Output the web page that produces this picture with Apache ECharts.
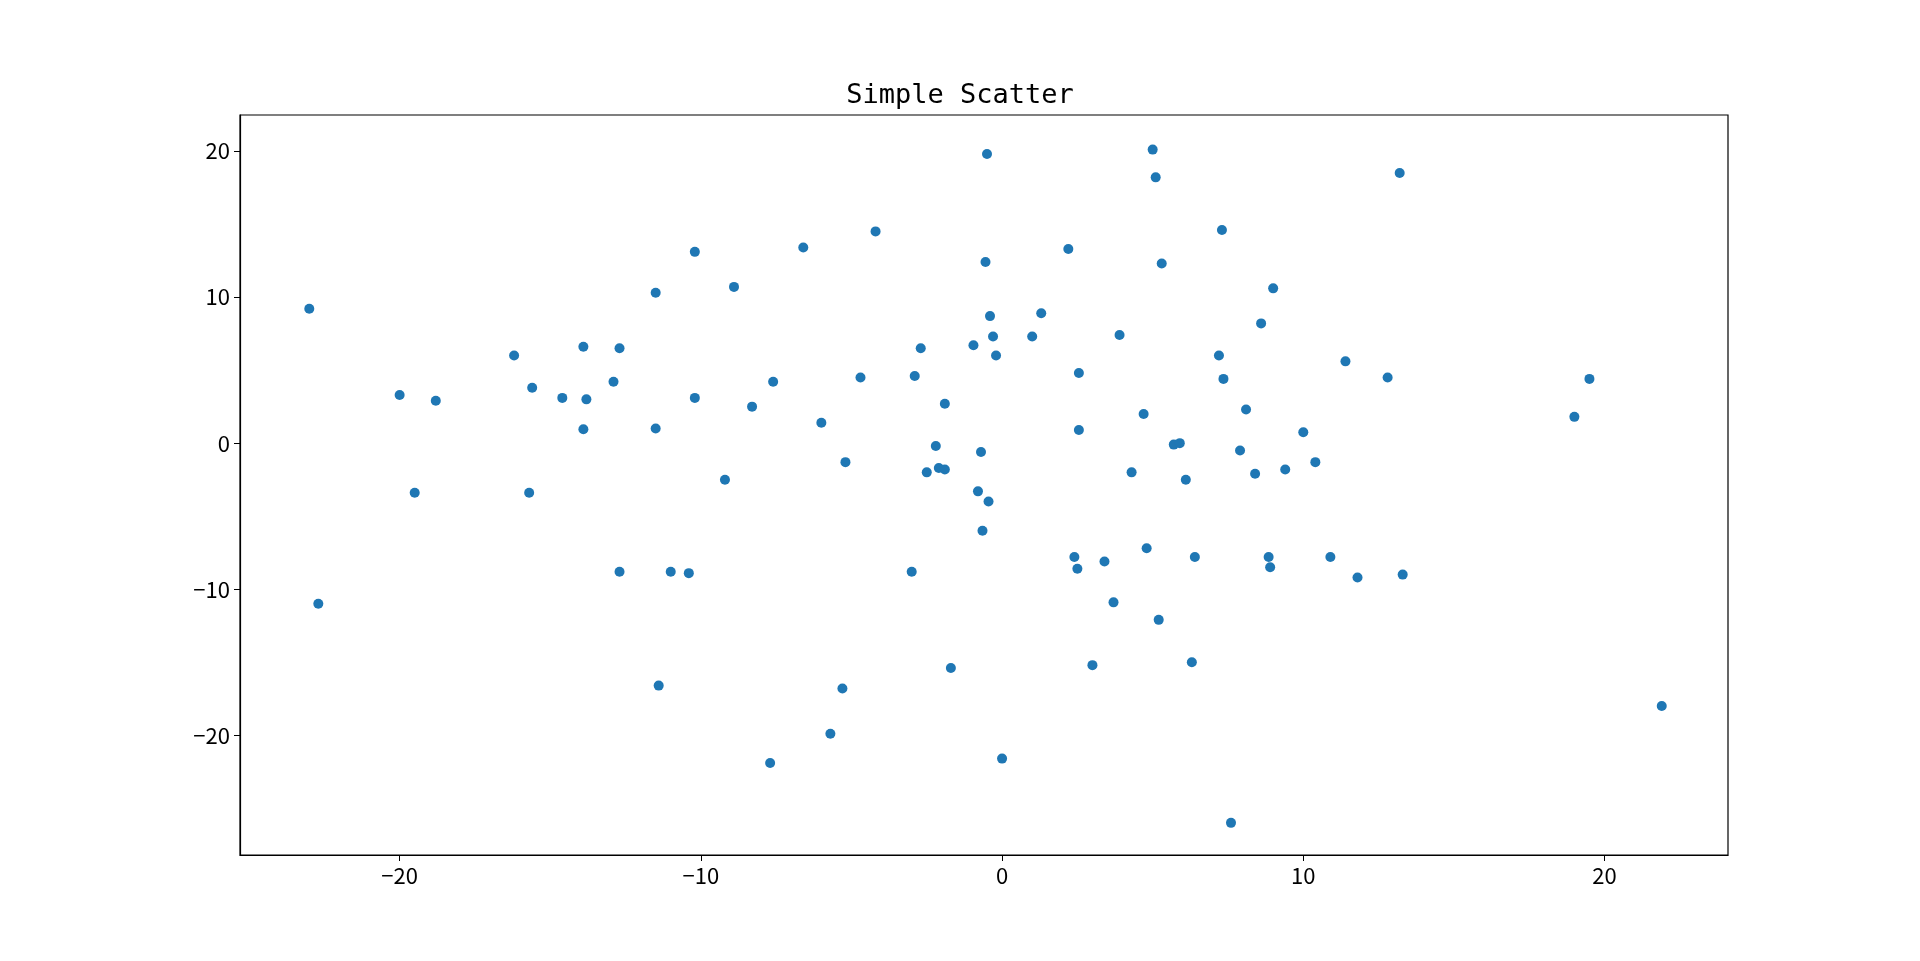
<!DOCTYPE html>
<html><head><meta charset="utf-8">
<script src="https://cdn.jsdelivr.net/npm/echarts@6/dist/echarts.min.js"></script>
<style>html,body{margin:0;padding:0;background:#fff}#c{width:1920px;height:961px}</style>
</head><body><div id="c"></div>
<script>
const xValues = [-23.0,-22.7,-20.0,-19.5,-18.8,-16.2,-15.6,-15.7,-14.6,-13.9,-13.9,-13.8,-12.9,-12.7,-12.7,-11.5,-11.5,-11.4,-11.0,-10.4,-10.2,-10.2,-9.2,-8.9,-8.3,-7.7,-7.6,-6.6,-6.0,-5.7,-5.3,-5.2,-4.7,-4.2,-3.0,-2.9,-2.7,-2.5,-2.2,-2.1,-1.9,-1.9,-1.7,-0.95,-0.8,-0.7,-0.65,-0.55,-0.5,-0.45,-0.4,-0.3,-0.2,0.0,1.0,1.3,2.2,2.4,2.5,2.55,2.55,3.0,3.4,3.7,3.9,4.3,4.7,4.8,5.0,5.1,5.2,5.3,5.7,5.9,6.1,6.3,6.4,7.2,7.3,7.35,7.6,7.9,8.1,8.4,8.6,8.85,8.9,9.0,9.4,10.0,10.4,10.9,11.4,11.8,12.8,13.2,13.3,19.0,19.5,21.9];
const yValues = [9.2,-11.0,3.3,-3.4,2.9,6.0,3.8,-3.4,3.1,6.6,0.95,3.0,4.2,6.5,-8.8,10.3,1.0,-16.6,-8.8,-8.9,13.1,3.1,-2.5,10.7,2.5,-21.9,4.2,13.4,1.4,-19.9,-16.8,-1.3,4.5,14.5,-8.8,4.6,6.5,-2.0,-0.2,-1.7,-1.8,2.7,-15.4,6.7,-3.3,-0.6,-6.0,12.4,19.8,-4.0,8.7,7.3,6.0,-21.6,7.3,8.9,13.3,-7.8,-8.6,4.8,0.9,-15.2,-8.1,-10.9,7.4,-2.0,2.0,-7.2,20.1,18.2,-12.1,12.3,-0.1,0.0,-2.5,-15.0,-7.8,6.0,14.6,4.4,-26.0,-0.5,2.3,-2.1,8.2,-7.8,-8.5,10.6,-1.8,0.75,-1.3,-7.8,5.6,-9.2,4.5,18.5,-9.0,1.8,4.4,-18.0];
const xTicks = [-20,-10,0,10,20];
const yTicks = [-20,-10,0,10,20];
const data = xValues.map((x,i)=>[x,yValues[i]]);
const font = '"Noto Sans CJK SC", sans-serif';
const axisCommon = {
  axisLine:{show:true,onZero:false,lineStyle:{color:'#000',width:1.2}},
  axisTick:{show:true,length:6,lineStyle:{color:'#000'}},
  splitLine:{show:false},
  axisLabel:{color:'#000',fontSize:22,fontFamily:font,formatter:v=>String(v).replace('-','\u2212')}
};
const chart = echarts.init(document.getElementById('c'));
chart.setOption({
  animation:false,
  title:{text:'Simple Scatter',left:'center',top:77,textStyle:{fontFamily:'"DejaVu Sans Mono", monospace',fontSize:27,fontWeight:'normal',color:'#000'}},
  grid:{left:240,right:192,top:115,bottom:106,show:true,borderColor:'#000',borderWidth:1.2},
  xAxis:Object.assign({type:'value',min:-25.3,max:24.1},axisCommon,{
    axisTick:Object.assign({},axisCommon.axisTick,{customValues:xTicks}),
    axisLabel:Object.assign({},axisCommon.axisLabel,{customValues:xTicks,margin:10})}),
  yAxis:Object.assign({type:'value',min:-28.2,max:22.47},axisCommon,{
    axisTick:Object.assign({},axisCommon.axisTick,{customValues:yTicks}),
    axisLabel:Object.assign({},axisCommon.axisLabel,{customValues:yTicks,margin:10})}),
  series:[{type:'scatter',data:data,symbolSize:10,itemStyle:{color:'#1f77b4',opacity:1}}]
});
</script></body></html>
